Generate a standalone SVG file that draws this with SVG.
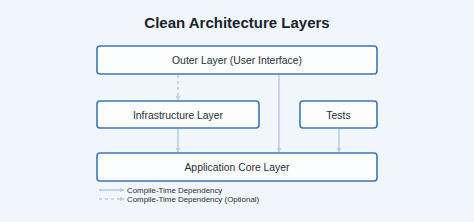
<svg xmlns="http://www.w3.org/2000/svg" width="474" height="222" viewBox="0 0 474 222">
<defs>
<style>
.box{fill:#fbfdff;stroke:#3b78b6;stroke-width:1.6}
.lbl{font-family:"Liberation Sans",Arial,sans-serif;font-size:10.4px;fill:#2a2f36;text-anchor:middle}
.leg{font-family:"Liberation Sans",Arial,sans-serif;font-size:7.9px;fill:#2a2f36}
.con{stroke:#b9cee6;stroke-width:1.6;fill:none}
.dash{stroke-dasharray:3 3}
</style>
<marker id="ah" viewBox="0 0 10 10" refX="9" refY="5" markerWidth="5" markerHeight="5" orient="auto" markerUnits="userSpaceOnUse">
<path d="M0,0 L10,5 L0,10 z" fill="#b9cee6"/>
</marker>
</defs>
<rect width="474" height="222" fill="#f1f6fc"/>
<text x="237" y="28" font-family="'Liberation Sans',Arial,sans-serif" font-weight="bold" font-size="15" fill="#1d232b" text-anchor="middle">Clean Architecture Layers</text>
<g id="connectors">
<line class="con dash" x1="178" y1="75" x2="178" y2="100" marker-end="url(#ah)"/>
<line class="con" x1="279" y1="75" x2="279" y2="152" marker-end="url(#ah)"/>
<line class="con" x1="178" y1="129" x2="178" y2="152" marker-end="url(#ah)"/>
<line class="con" x1="339" y1="129" x2="339" y2="152" marker-end="url(#ah)"/>
</g>
<g id="outer">
<rect class="box" x="97" y="46" width="280" height="28" rx="3"/>
<text class="lbl" x="237" y="64">Outer Layer (User Interface)</text>
</g>
<g id="infra">
<rect class="box" x="97" y="101" width="162" height="27" rx="3"/>
<text class="lbl" x="178" y="118.5">Infrastructure Layer</text>
</g>
<g id="tests">
<rect class="box" x="300" y="101" width="77" height="27" rx="3"/>
<text class="lbl" x="338.5" y="118.5">Tests</text>
</g>
<g id="core">
<rect class="box" x="97" y="153" width="280" height="28" rx="3"/>
<text class="lbl" x="237" y="170.5">Application Core Layer</text>
</g>
<g id="legend">
<line class="con" x1="99" y1="190" x2="124" y2="190" marker-end="url(#ah)"/>
<text class="leg" x="127" y="193">Compile-Time Dependency</text>
<line class="con dash" x1="99" y1="199" x2="124" y2="199" marker-end="url(#ah)"/>
<text class="leg" x="127" y="202">Compile-Time Dependency (Optional)</text>
</g>
</svg>
